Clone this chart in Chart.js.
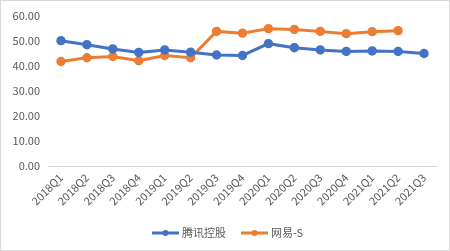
<!DOCTYPE html>
<html>
<head>
<meta charset="utf-8">
<script src="https://cdn.jsdelivr.net/npm/chart.js@4/dist/chart.umd.min.js"></script>
<style>
  html, body { margin: 0; padding: 0; background: #fff; }
  #wrap { position: relative; width: 448px; height: 249px; border: 1px solid #d9d9d9; }
  #chart { display: block; }
</style>
</head>
<body>
<div id="wrap"><canvas id="chart" width="448" height="249"></canvas></div>
<script>
// ===== data =====
const quarters = ["2018Q1", "2018Q2", "2018Q3", "2018Q4", "2019Q1", "2019Q2", "2019Q3", "2019Q4",
  "2020Q1", "2020Q2", "2020Q3", "2020Q4", "2021Q1", "2021Q2", "2021Q3"];
const tencent = [50.0, 48.4, 46.7, 45.3, 46.3, 45.4, 44.3, 44.1, 48.8, 47.2, 46.3, 45.7, 45.9, 45.7, 44.9];
const netease = [41.7, 43.2, 43.7, 42.0, 44.1, 43.2, 53.7, 53.0, 54.8, 54.5, 53.7, 52.8, 53.6, 54.0, null];
const seriesNames = ["腾讯控股", "网易-S"];
const yTicks = [0, 10, 20, 30, 40, 50, 60];

const BLUE = "#4472C4";
const ORANGE = "#ED7D31";
const FONT = "'Noto Sans CJK SC', 'Noto Sans', sans-serif";

// legend drawn at the bottom: short line with a dot, then the name
const bottomLegend = {
  id: "bottomLegend",
  afterDraw(chart) {
    const ctx = chart.ctx;
    const items = [
      { name: seriesNames[0], color: BLUE, x: 151 },
      { name: seriesNames[1], color: ORANGE, x: 240 }
    ];
    const y = 232;
    ctx.save();
    ctx.font = "11px " + FONT;
    ctx.textBaseline = "middle";
    items.forEach(it => {
      ctx.strokeStyle = it.color;
      ctx.lineWidth = 3;
      ctx.beginPath();
      ctx.moveTo(it.x, y);
      ctx.lineTo(it.x + 27, y);
      ctx.stroke();
      ctx.fillStyle = it.color;
      ctx.beginPath();
      ctx.arc(it.x + 13.5, y, 3, 0, Math.PI * 2);
      ctx.fill();
      ctx.fillStyle = "#595959";
      ctx.fillText(it.name, it.x + 30, y);
    });
    ctx.restore();
  }
};

new Chart(document.getElementById("chart"), {
  type: "line",
  data: {
    labels: quarters,
    datasets: [
      {
        label: seriesNames[0],
        data: tencent,
        borderColor: BLUE,
        backgroundColor: BLUE,
        borderWidth: 3,
        pointRadius: 3.2,
        pointHoverRadius: 3.2,
        tension: 0
      },
      {
        label: seriesNames[1],
        data: netease,
        borderColor: ORANGE,
        backgroundColor: ORANGE,
        borderWidth: 3,
        pointRadius: 3.2,
        pointHoverRadius: 3.2,
        tension: 0
      }
    ]
  },
  options: {
    responsive: false,
    animation: false,
    layout: { padding: { top: 6, right: 12, bottom: 34, left: 3 } },
    plugins: {
      legend: { display: false },
      tooltip: { enabled: false }
    },
    scales: {
      x: {
        offset: true,
        grid: { display: false, drawTicks: false },
        border: { color: "#d9d9d9", width: 1 },
        afterFit(axis) { axis.height = 50; },
        ticks: {
          color: "#595959",
          font: { family: FONT, size: 11 },
          maxRotation: 45,
          minRotation: 45,
          padding: 5,
          autoSkip: false
        }
      },
      y: {
        min: 0,
        max: 60,
        afterBuildTicks(axis) { axis.ticks = yTicks.map(v => ({ value: v })); },
        afterFit(axis) { axis.width = 44; },
        grid: { display: false, drawTicks: false },
        border: { display: false },
        ticks: {
          color: "#595959",
          font: { family: FONT, size: 11 },
          padding: 8,
          callback: v => v.toFixed(2)
        }
      }
    }
  },
  plugins: [bottomLegend]
});
</script>
</body>
</html>
